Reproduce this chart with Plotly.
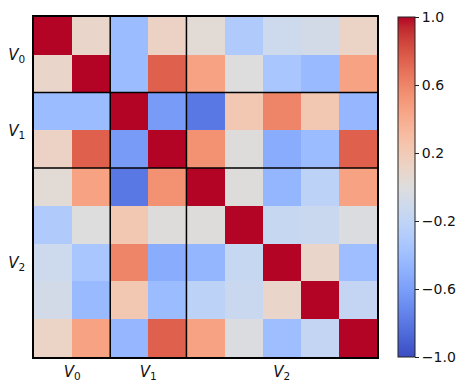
import plotly.graph_objects as go
import numpy as np

# ---- data ----
group_names = ["V0", "V1", "V2"]
group_labels = ["<i>V</i><sub>0</sub>", "<i>V</i><sub>1</sub>", "<i>V</i><sub>2</sub>"]
group_sizes = [2, 2, 5]

row0 = [1.00, 0.10, -0.42, 0.13, 0.04, -0.30, -0.12, -0.08, 0.12]
row1 = [0.10, 1.00, -0.42, 0.75, 0.46, 0.00, -0.34, -0.43, 0.46]
row2 = [-0.42, -0.42, 1.00, -0.62, -0.80, 0.22, 0.60, 0.22, -0.45]
row3 = [0.13, 0.75, -0.62, 1.00, 0.54, 0.01, -0.52, -0.42, 0.75]
row4 = [0.04, 0.46, -0.80, 0.54, 1.00, 0.01, -0.46, -0.22, 0.46]
row5 = [-0.30, 0.00, 0.22, 0.01, 0.01, 1.00, -0.16, -0.14, -0.02]
row6 = [-0.12, -0.34, 0.60, -0.52, -0.46, -0.16, 1.00, 0.10, -0.40]
row7 = [-0.08, -0.43, 0.22, -0.42, -0.22, -0.14, 0.10, 1.00, -0.18]
row8 = [0.12, 0.46, -0.45, 0.75, 0.46, -0.02, -0.40, -0.18, 1.00]
matrix = [row0, row1, row2, row3, row4, row5, row6, row7, row8]

cbar_tickvals = [-1.0, -0.6, -0.2, 0.2, 0.6, 1.0]
cbar_ticktext = ["\u22121.0", "\u22120.6", "\u22120.2", "0.2", "0.6", "1.0"]

# matplotlib coolwarm
cw = [(59,76,192),(68,90,204),(77,104,215),(87,117,225),(98,130,234),(108,142,241),
      (119,154,247),(130,165,251),(141,176,254),(152,185,255),(163,194,255),(174,201,253),
      (184,208,249),(194,213,244),(204,217,238),(213,219,230),(221,221,221),(229,216,209),
      (236,211,197),(241,204,185),(245,196,173),(247,187,160),(247,177,148),(247,166,135),
      (244,154,123),(241,141,111),(236,127,99),(229,112,88),(222,96,77),(213,80,66),
      (203,62,56),(192,40,47),(180,4,38)]
colorscale = [[i/(len(cw)-1), "rgb(%d,%d,%d)" % c] for i, c in enumerate(cw)]

n = len(matrix)
idx = list(range(n))
bounds = np.cumsum(group_sizes)
starts = np.concatenate([[0], bounds[:-1]])
centers = [(s + b - 1) / 2 for s, b in zip(starts, bounds)]

fig = go.Figure(go.Heatmap(
    z=matrix, x=idx, y=idx, zmin=-1, zmax=1, colorscale=colorscale,
    xgap=0, ygap=0,
    colorbar=dict(
        x=1.061, xanchor="left", xref="paper",
        y=0.5, yanchor="middle", len=1.0, lenmode="fraction",
        ypad=0, xpad=0,
        thickness=17, thicknessmode="pixels",
        outlinewidth=1, outlinecolor="#222",
        tickvals=cbar_tickvals, ticktext=cbar_ticktext,
        ticks="outside", ticklen=4, tickwidth=1, tickcolor="#222",
        tickfont=dict(family="DejaVu Sans", size=14, color="#111"),
    ),
))

shapes = []
for b in bounds[:-1]:
    pos = b - 0.5
    shapes.append(dict(type="line", xref="x", yref="y", x0=pos, x1=pos, y0=-0.5, y1=n-0.5,
                       line=dict(color="black", width=1.5)))
    shapes.append(dict(type="line", xref="x", yref="y", y0=pos, y1=pos, x0=-0.5, x1=n-0.5,
                       line=dict(color="black", width=1.5)))
fig.update_layout(shapes=shapes)

axis_common = dict(
    tickvals=centers, ticktext=group_labels, ticks="", showgrid=False, zeroline=False,
    showline=True, linecolor="black", linewidth=1.5, mirror=True, automargin=False,
    tickfont=dict(family="DejaVu Sans", size=15, color="#111"),
)
fig.update_xaxes(range=[-0.5, n-0.5], **axis_common)
fig.update_yaxes(range=[n-0.5, -0.5], ticklabelstandoff=4, **axis_common)

fig.update_layout(
    width=466, height=380,
    margin=dict(l=26, r=97, t=9, b=31, autoexpand=False),
    paper_bgcolor="white", plot_bgcolor="white",
)
fig.write_html("out.html")
